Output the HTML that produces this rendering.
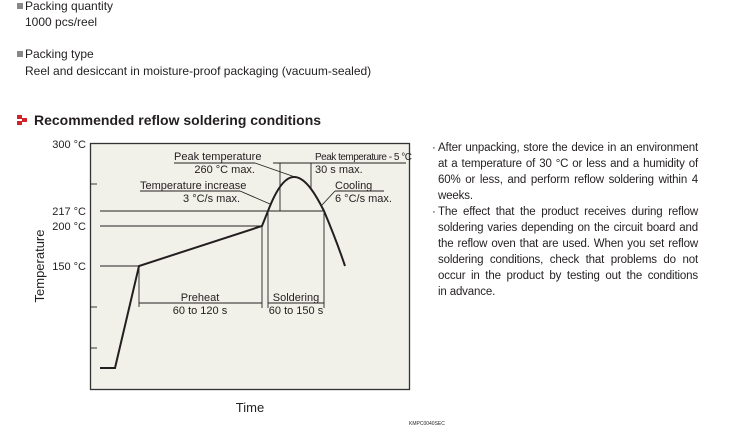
<!DOCTYPE html>
<html><head><meta charset="utf-8"><style>
body{margin:0;background:#fff;width:742px;height:434px;overflow:hidden;font-family:"Liberation Sans",sans-serif;color:#231f20;position:relative}
.t{position:absolute;font-size:12px;white-space:nowrap}
.sq{display:inline-block;width:6px;height:6px;background:#888;margin-right:2px;vertical-align:1px}
.p{position:absolute;left:438px;top:140px;width:260px;font-size:11.5px;line-height:16px;letter-spacing:-0.15px}
.p div{position:relative;white-space:nowrap;text-align:justify;text-align-last:justify;height:16px}
.p div.l{text-align-last:left}
.p b{position:absolute;left:-6px;top:0;font-weight:normal}
</style></head><body>
<div class="t" style="left:17px;top:-1px"><span class="sq"></span>Packing quantity</div>
<div class="t" style="left:25px;top:15px">1000 pcs/reel</div>
<div class="t" style="left:17px;top:47px"><span class="sq"></span>Packing type</div>
<div class="t" style="left:25px;top:64px">Reel and desiccant in moisture-proof packaging (vacuum-sealed)</div>
<div style="position:absolute;left:17px;top:115px;width:10px;height:10px">
<div style="position:absolute;left:0;top:0;width:5px;height:4px;background:#d2232a"></div>
<div style="position:absolute;left:5px;top:3px;width:5px;height:4px;background:#d2232a"></div>
<div style="position:absolute;left:0;top:6px;width:5px;height:4px;background:#d2232a"></div></div>
<div class="t" style="left:34px;top:112px;font-size:14px;font-weight:bold">Recommended reflow soldering conditions</div>
<div class="p">
<div><b>·</b>After unpacking, store the device in an environment</div>
<div>at a temperature of 30 °C or less and a humidity of</div>
<div>60% or less, and perform reflow soldering within 4</div>
<div class="l">weeks.</div>
<div><b>·</b>The effect that the product receives during reflow</div>
<div>soldering varies depending on the circuit board and</div>
<div>the reflow oven that are used. When you set reflow</div>
<div>soldering conditions, check that problems do not</div>
<div>occur in the product by testing out the conditions</div>
<div class="l">in advance.</div>
</div>
<svg width="742" height="434" style="position:absolute;left:0;top:0" font-family="Liberation Sans,sans-serif" font-size="11" fill="#231f20">
<rect x="90.5" y="143.5" width="319" height="246" fill="#f1f0e9" stroke="#333" stroke-width="1.3"/>
<g stroke="#222" stroke-width="0.9" fill="none">
<line x1="90" y1="184" x2="97" y2="184"/><line x1="90" y1="307" x2="97" y2="307"/><line x1="90" y1="348" x2="97" y2="348"/>
<line x1="100" y1="211" x2="324" y2="211"/><line x1="100" y1="226" x2="262" y2="226"/><line x1="100" y1="266" x2="139" y2="266"/>
<line x1="139" y1="266" x2="139" y2="307"/><line x1="262" y1="226" x2="262" y2="308"/><line x1="268" y1="211" x2="268" y2="308"/><line x1="324" y1="211" x2="324" y2="308"/>
<line x1="139" y1="303" x2="262" y2="303"/><line x1="268" y1="303" x2="324" y2="303"/>
<line x1="174" y1="163" x2="255" y2="163"/><line x1="255" y1="163" x2="295" y2="177"/>
<line x1="273" y1="163" x2="406" y2="163"/><line x1="280" y1="163" x2="280" y2="211"/><line x1="311" y1="163" x2="311" y2="190"/>
<line x1="140" y1="191" x2="240" y2="191"/><line x1="240" y1="191" x2="270" y2="204"/>
<line x1="335" y1="191" x2="384" y2="191"/><line x1="335" y1="191" x2="322" y2="205"/>
</g>
<path d="M100,368 L115,368 L139,266 L262,226 L268,211 C276,190 285,176 295,177 C306,178 316,195 324,211 C332,230 339,248 345,266" fill="none" stroke="#231f20" stroke-width="2"/>
<g text-anchor="end"><text x="86" y="148">300 °C</text><text x="86" y="215">217 °C</text><text x="86" y="230">200 °C</text><text x="86" y="270">150 °C</text>
<text x="255" y="173">260 °C max.</text><text x="240" y="202">3 °C/s max.</text></g>
<text x="174" y="160">Peak temperature</text>
<text x="315" y="160" font-size="10" letter-spacing="-0.5">Peak temperature - 5 °C</text>
<text x="315" y="173">30 s max.</text>
<text x="140" y="189">Temperature increase</text>
<text x="335" y="189">Cooling</text><text x="335" y="202">6 °C/s max.</text>
<g text-anchor="middle"><text x="200" y="301">Preheat</text><text x="200" y="314">60 to 120 s</text>
<text x="296" y="301">Soldering</text><text x="296" y="314">60 to 150 s</text>
<text x="250" y="412" font-size="13">Time</text>
<text transform="translate(44,266) rotate(-90)" font-size="13">Temperature</text></g>
<text x="409" y="425" font-size="5">KMPC0040SEC</text>
</svg>
</body></html>
